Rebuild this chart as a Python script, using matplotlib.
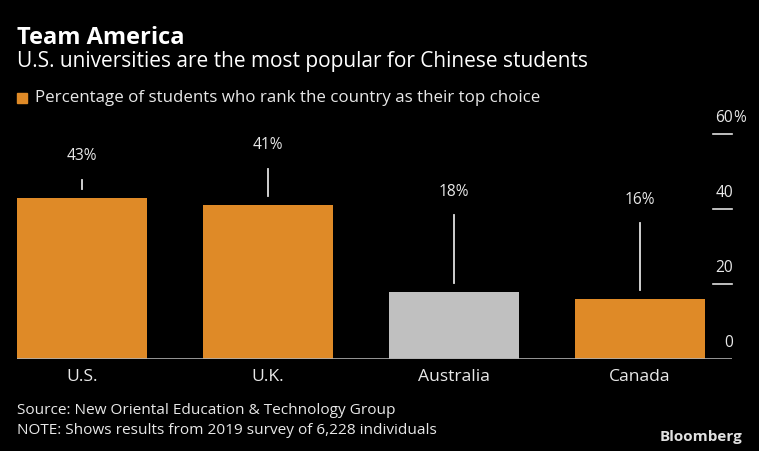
import numpy as np
import matplotlib
matplotlib.use('Agg')
import matplotlib.pyplot as plt
import matplotlib.transforms as mtransforms

countries = ['U.S.', 'U.K.', 'Australia', 'Canada']
shares = [43, 41, 18, 16]
value_labels = ['43%', '41%', '18%', '16%']
y_ticks = [0, 20, 40, 60]
y_tick_labels = ['0', '20', '40', '60']

# layout: where each value label sits (data units), bar colours
label_y = [54, 57, 44.5, 42.4]
bar_colors = ['#df8a27', '#df8a27', '#c0c0c0', '#df8a27']

plt.rcParams['font.family'] = ['Open Sans', 'DejaVu Sans']
txt = '#e8e8e8'

fig = plt.figure(figsize=(7.59, 4.51), dpi=100, facecolor='black')
ax = fig.add_axes([17 / 759, 1 - 359 / 451, 715 / 759, 225 / 451])
ax.set_facecolor('black')

x = np.arange(len(countries))
ax.bar(x, shares, width=0.7, color=bar_colors, zorder=2)
ax.set_xlim(-0.35, 3.494)
ax.set_ylim(0, 60)

for s in ax.spines.values():
    s.set_visible(False)
ax.axhline(0, color='#b0b0b0', lw=1.2, zorder=3)
ax.set_xticks([])
ax.set_yticks([])

# value labels with leader lines
for xi, v, lab, ly in zip(x, shares, value_labels, label_y):
    ax.text(xi, ly, lab, ha='center', va='center', color=txt, fontsize=11.2, clip_on=False)
    ax.plot([xi, xi], [v + 2.4, ly - 6.2], color='#e0e0e0', lw=1.3, clip_on=False)

# category labels
for xi, c in zip(x, countries):
    ax.text(xi, -4.8, c, ha='center', va='center', color=txt, fontsize=12.6, clip_on=False)

# right side y ticks
trans = mtransforms.blended_transform_factory(ax.transAxes, ax.transData)
for t, tl in zip(y_ticks, y_tick_labels):
    if t > 0:
        ax.plot([0.9734, 1.0], [t, t], color='#e0e0e0', lw=1.2, transform=trans, clip_on=False)
    ax.text(1.0015, t + 4.3, tl, ha='right', va='center', color=txt, fontsize=11.2,
            transform=trans, clip_on=False)
    if t == 60:
        ax.text(1.0015, t + 4.3, '%', ha='left', va='center', color=txt, fontsize=11.2,
                transform=trans, clip_on=False)

# titles
fig.text(17 / 759, 1 - 38 / 451, 'Team America', fontsize=17, fontweight='bold',
         color='white', va='center', ha='left')
fig.text(17 / 759, 1 - 62 / 451, 'U.S. universities are the most popular for Chinese students',
         fontsize=15.0, color='white', va='center', ha='left')
fig.patches.append(plt.Rectangle((17 / 759, 1 - 103 / 451), 10 / 759, 10 / 451,
                                 transform=fig.transFigure, color='#df8a27'))
fig.text(35 / 759, 1 - 98 / 451, 'Percentage of students who rank the country as their top choice',
         fontsize=12.2, color=txt, va='center', ha='left')

# footer
fig.text(17 / 759, 1 - 411 / 451, 'Source: New Oriental Education & Technology Group',
         fontsize=11.1, color=txt, va='center', ha='left')
fig.text(17 / 759, 1 - 430 / 451, 'NOTE: Shows results from 2019 survey of 6,228 individuals',
         fontsize=11.1, color=txt, va='center', ha='left')
fig.text(742 / 759, 1 - 437 / 451, 'Bloomberg', fontsize=11, fontweight='bold',
         color='#e0e0e0', va='center', ha='right')

fig.savefig('out.png', dpi=100, facecolor='black')
